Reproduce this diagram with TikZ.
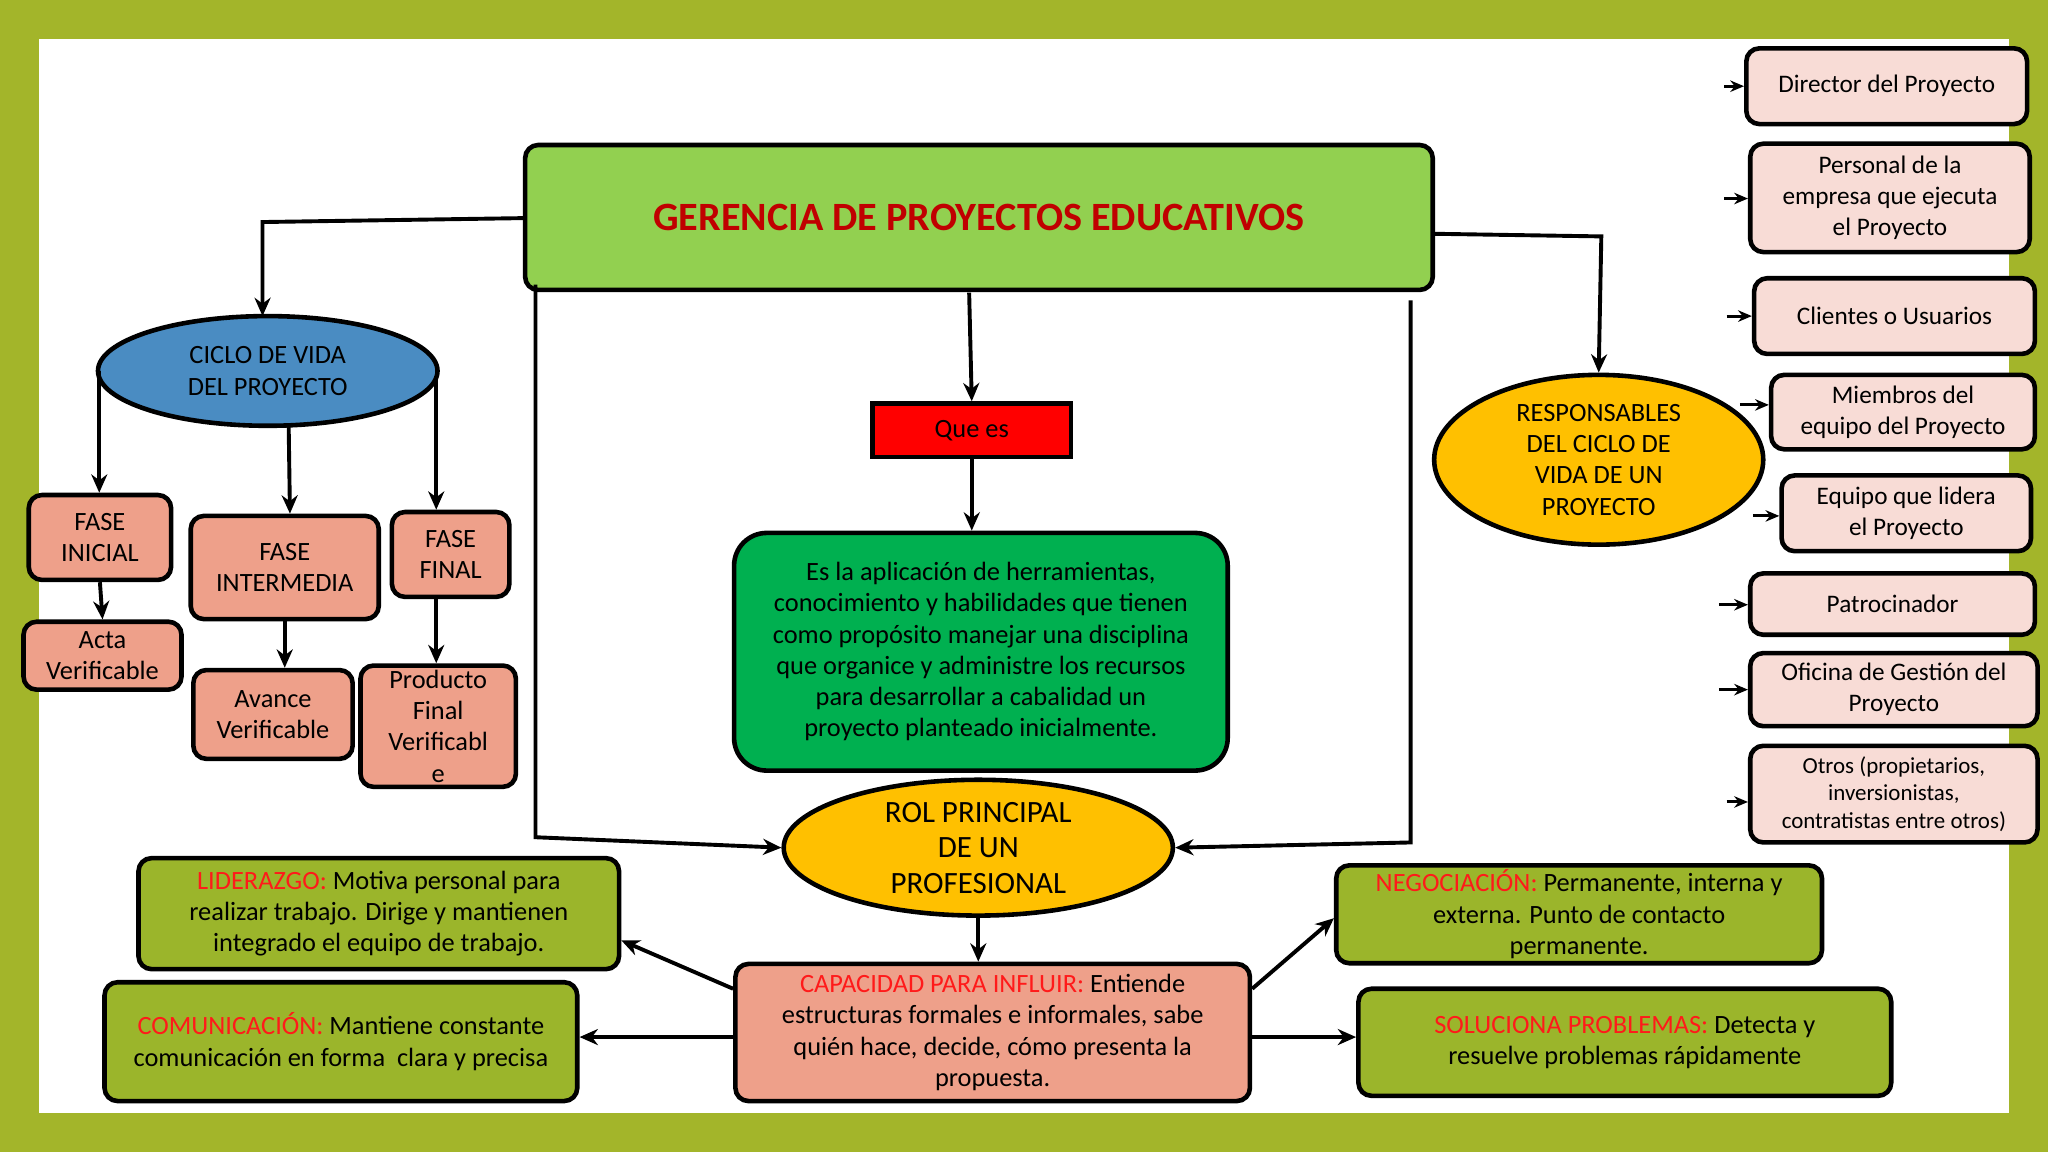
\documentclass[tikz,border=0pt]{standalone}
\usepackage{fontspec}
\setmainfont{Carlito}
\usetikzlibrary{shapes.geometric,arrows.meta}
\definecolor{frame}{HTML}{A3B52A}
\definecolor{titleg}{HTML}{92D050}
\definecolor{titler}{HTML}{C00000}
\definecolor{salmon}{HTML}{EEA08A}
\definecolor{pinkb}{HTML}{F8DCD6}
\definecolor{olive}{HTML}{9BB52B}
\definecolor{greenb}{HTML}{00B050}
\definecolor{gold}{HTML}{FFC000}
\definecolor{blueb}{HTML}{4A8CC2}
\definecolor{redl}{HTML}{FF1A1A}
\tikzset{
 bx/.style={draw=black,line width=2pt,rounded corners=0.2cm,align=center,inner sep=2pt,font=\fontsize{11.5}{13.6}\selectfont},
 sal/.style={bx,fill=salmon},
 pk/.style={bx,fill=pinkb,font=\fontsize{11}{13.6}\selectfont},
 ol/.style={bx,fill=olive},
 ell/.style={ellipse,draw=black,line width=2pt,align=center,inner sep=0pt,font=\fontsize{11.5}{13.6}\selectfont},
 arr/.style={line width=1.7pt,-{Stealth[length=8pt,width=7pt]}},
 sarr/.style={line width=1.3pt,-{Stealth[length=6pt,width=5pt]}},
}
\begin{document}
\begin{tikzpicture}[x=0.02cm,y=-0.02cm]
\fill[frame] (0,0) rectangle (1568,882);
\fill[white] (30,30) rectangle (1538,852);
\node[bx,fill=titleg,minimum width=13.9cm,minimum height=2.22cm,font=\fontsize{17.5}{20}\selectfont\bfseries,text=titler] (t) at (749.5,166.5) {GERENCIA DE PROYECTOS EDUCATIVOS};
\node[ell,fill=blueb,minimum width=5.2cm,minimum height=1.68cm] (c) at (205,284) {CICLO DE VIDA\\DEL PROYECTO};
\node[sal,minimum width=2.18cm,minimum height=1.3cm] (f1) at (76.5,411.5) {FASE\\INICIAL};
\node[sal,minimum width=2.88cm,minimum height=1.58cm] (f2) at (218,434.5) {FASE\\INTERMEDIA};
\node[sal,minimum width=1.8cm,minimum height=1.3cm] (f3) at (345,424.5) {FASE\\FINAL};
\node[sal,minimum width=2.42cm,minimum height=1.04cm] (a1) at (78.5,502) {Acta\\Verificable};
\node[sal,minimum width=2.44cm,minimum height=1.36cm] (a2) at (209,547) {Avance\\Verificable};
\node[sal,minimum width=2.38cm,minimum height=1.72cm] (a3) at (335.5,556) {Producto\\Final\\Verificabl\\e};
\node[draw=black,line width=2pt,fill=red,minimum width=3.04cm,minimum height=0.82cm,font=\fontsize{11.5}{13.6}\selectfont] (q) at (744,329.5) {Que es};
\node[bx,fill=greenb,rounded corners=0.5cm,minimum width=7.56cm,minimum height=3.64cm] (g) at (751,499) {Es la aplicación de herramientas,\\conocimiento y habilidades que tienen\\como propósito manejar una disciplina\\que organice y administre los recursos\\para desarrollar a cabalidad un\\proyecto planteado inicialmente.};
\node[ell,fill=gold,minimum width=5.96cm,minimum height=2.08cm,font=\fontsize{13.5}{15.5}\selectfont] (r) at (749,649) {ROL PRINCIPAL\\DE UN\\PROFESIONAL};
\node[ell,fill=gold,minimum width=5.04cm,minimum height=2.6cm] (rs) at (1224,352) {RESPONSABLES\\DEL CICLO DE\\VIDA DE UN\\PROYECTO};
\node[pk,minimum width=4.3cm,minimum height=1.16cm] (p1) at (1444.5,66) {Director del Proyecto};
\node[pk,minimum width=4.28cm,minimum height=1.66cm] (p2) at (1447,151.5) {Personal de la\\empresa que ejecuta\\el Proyecto};
\node[pk,minimum width=4.3cm,minimum height=1.16cm] (p3) at (1450.5,242) {Clientes o Usuarios};
\node[pk,minimum width=4.04cm,minimum height=1.14cm] (p4) at (1457,315.5) {Miembros del\\equipo del Proyecto};
\node[pk,minimum width=3.82cm,minimum height=1.16cm] (p5) at (1459.5,393) {Equipo que lidera\\el Proyecto};
\node[pk,minimum width=4.36cm,minimum height=0.94cm] (p6) at (1449,462.5) {Patrocinador};
\node[pk,minimum width=4.4cm,minimum height=1.12cm] (p7) at (1450,528) {Oficina de Gestión del\\Proyecto};
\node[pk,minimum width=4.4cm,minimum height=1.48cm,font=\fontsize{10}{11.8}\selectfont] (p8) at (1450,608) {Otros (propietarios,\\inversionistas,\\contratistas entre otros)};
\node[ol,minimum width=7.36cm,minimum height=1.7cm] (l) at (290,699.5) {\textcolor{redl}{LIDERAZGO:} Motiva personal para\\realizar trabajo. Dirige y mantienen\\integrado el equipo de trabajo.};
\node[ol,minimum width=7.24cm,minimum height=1.82cm] (cm) at (261,797.5) {\textcolor{redl}{COMUNICACIÓN:} Mantiene constante\\comunicación en forma\ \ clara y precisa};
\node[sal,minimum width=7.88cm,minimum height=2.1cm] (cp) at (760,790.5) {\textcolor{redl}{CAPACIDAD PARA INFLUIR:} Entiende\\estructuras formales e informales, sabe\\quién hace, decide, cómo presenta la\\propuesta.};
\node[ol,minimum width=7.44cm,minimum height=1.48cm] (n) at (1209,700) {\textcolor{redl}{NEGOCIACIÓN:} Permanente, interna y\\externa. Punto de contacto\\permanente.};
\node[ol,minimum width=8.16cm,minimum height=1.64cm] (s) at (1244,798) {\textcolor{redl}{SOLUCIONA PROBLEMAS:} Detecta y\\resuelve problemas rápidamente};
% connectors
\draw[arr] (t.west |- 0,167) -- (201,170) -- (201,242);
\draw[arr] (t.east |- 0,179) -- (1226,181) -- (rs.north);
\draw[arr] (742,224) -- (q.north);
\draw[arr] (q.south) -- (q.south |- g.north);
\draw[arr] (410,218) -- (410,641) -- (r.west);
\draw[arr] (1080,230) -- (1080,645) -- (r.east);
\draw[arr] (76,284) -- (f1.north -| 76,0);
\draw[arr] (221,325) -- (f2.north -| 222,0);
\draw[arr] (334,288) -- (f3.north -| 334,0);
\draw[arr] (f1.south) -- (a1.north);
\draw[arr] (f2.south) -- (a2.north -| f2.south);
\draw[arr] (f3.south -| 334,0) -- (a3.north -| 334,0);
\draw[arr] (r.south) -- (cp.north -| r.south);
\draw[arr] (cp.west |- 0,757) -- (l.east |- 0,720);
\draw[arr] (cp.west |- 0,794) -- (cm.east |- 0,794);
\draw[arr] (cp.east |- 0,757) -- (n.west |- 0,703);
\draw[arr] (cp.east |- 0,794) -- (s.west |- 0,794);
\foreach \p/\y/\x in {p1/66/1320,p2/152/1320,p3/242/1322,p4/310/1332,p5/395/1342,p6/463/1316,p7/528/1316,p8/614/1322}{
 \coordinate (s\p) at (\x,\y);
 \draw[sarr] (s\p) -- (\p.west |- s\p);
}
\end{tikzpicture}
\end{document}
